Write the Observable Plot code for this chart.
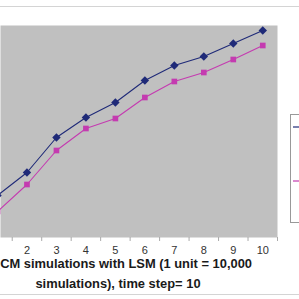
<!DOCTYPE html>
<html><head><meta charset="utf-8">
<script src="https://cdn.jsdelivr.net/npm/d3@7"></script>
<script src="https://cdn.jsdelivr.net/npm/@observablehq/plot@0.6"></script>
<style>
html,body{margin:0;padding:0;background:#fff;overflow:hidden;width:299px;height:299px;}
#c{position:relative;width:299px;height:299px;}
svg{display:block;}
</style></head>
<body><div id="c"></div>
<script>
const units = [1,2,3,4,5,6,7,8,9,10];
const seriesA = [42,65,100,120,135,157,172,181,194,207];
const seriesB = [26,53,87,109,119,140,156,165,178,192];
const tickLabels = ["2","3","4","5","6","7","8","9","10"];
const titleLine1 = "CM simulations with LSM (1 unit = 10,000";
const titleLine2 = "simulations), time step= 10";

const dataA = units.map((u,i)=>({u, v: seriesA[i]}));
const dataB = units.map((u,i)=>({u, v: seriesB[i]}));
const blue = "#1f2a78", pink = "#c43bb0";

const chart = Plot.plot({
  width: 299, height: 299,
  marginLeft: 0, marginRight: 22, marginTop: 25, marginBottom: 62,
  style: {background: "transparent", fontFamily: "Liberation Sans, Arial, sans-serif"},
  x: {domain: [1.102, 10.5], axis: null, label: null},
  y: {domain: [0, 212], axis: null, label: null},
  marks: [
    Plot.frame({fill: "#c0c0c0", stroke: "none"}),
    Plot.axisX([1.5,2.5,3.5,4.5,5.5,6.5,7.5,8.5,9.5,10.5], {tickSize: 4, stroke: "#aaa", tickFormat: () => "", label: null}),
    Plot.axisX(tickLabels.map(Number), {tickSize: 0, tickPadding: 9, fontSize: 11, fill: "#333", label: null, tickFormat: d => tickLabels[tickLabels.indexOf(String(d))]}),
    Plot.line(dataB, {x: "u", y: "v", stroke: pink, strokeWidth: 1.1}),
    Plot.line(dataA, {x: "u", y: "v", stroke: blue, strokeWidth: 1.1}),
    Plot.dot(dataB, {x: "u", y: "v", symbol: "square", fill: pink, r: 3.2}),
    Plot.dot(dataA, {x: "u", y: "v", symbol: "diamond2", fill: blue, r: 3.8})
  ]
});
document.getElementById("c").appendChild(chart);

const svg = d3.select(chart);
svg.append("line").attr("x1",0).attr("x2",299).attr("y1",6.5).attr("y2",6.5).attr("stroke","#d4d4d4").attr("stroke-width",1);
svg.append("line").attr("x1",0).attr("x2",299).attr("y1",294.5).attr("y2",294.5).attr("stroke","#d4d4d4").attr("stroke-width",1);
svg.append("text").attr("x",252).attr("y",268).attr("text-anchor","end")
  .attr("font-size",12.9).attr("font-weight","bold").attr("fill","#1a1a1a")
  .attr("font-family","Liberation Sans, Arial, sans-serif").text(titleLine1);
svg.append("text").attr("x",118).attr("y",288).attr("text-anchor","middle")
  .attr("font-size",12.9).attr("font-weight","bold").attr("fill","#1a1a1a")
  .attr("font-family","Liberation Sans, Arial, sans-serif").text(titleLine2);
// legend box (cropped)
svg.append("rect").attr("x",290.5).attr("y",114.5).attr("width",20).attr("height",108).attr("fill","#fff").attr("stroke","#999");
svg.append("line").attr("x1",293).attr("x2",305).attr("y1",127).attr("y2",127).attr("stroke",blue).attr("stroke-width",1.2);
svg.append("line").attr("x1",293).attr("x2",305).attr("y1",181).attr("y2",181).attr("stroke",pink).attr("stroke-width",1.2);
</script>
</body></html>
